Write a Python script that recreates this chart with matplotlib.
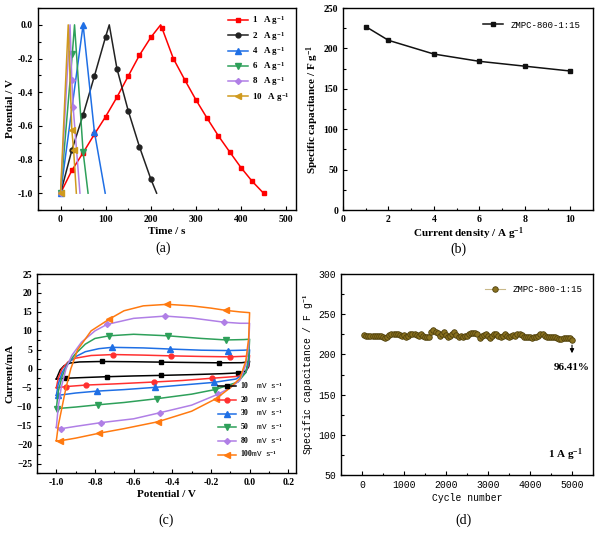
# Electrochemical performance of ZMPC-800-1:15 (GCD, rate, CV, cycling)

import matplotlib
matplotlib.use('Agg')
import matplotlib.pyplot as plt
from matplotlib.ticker import MultipleLocator

plt.rcParams['font.family'] = 'Liberation Serif'
plt.rcParams['font.weight'] = 'bold'
plt.rcParams['axes.labelweight'] = 'bold'
plt.rcParams['mathtext.fontset'] = 'custom'
plt.rcParams['mathtext.rm'] = 'Liberation Serif'
plt.rcParams['mathtext.bf'] = 'Liberation Serif:bold'
plt.rcParams['mathtext.it'] = 'Liberation Serif:italic'

# ---- (a) GCD curves ----
gcd_labels = ['1', '2', '4', '6', '8', '10']
t_1 = [0, 25, 50, 75, 100, 125, 150, 175, 200, 222, 225, 250, 275, 300, 325, 350, 375, 400, 425, 450]
v_1 = [-1.0, -0.865, -0.76, -0.65, -0.545, -0.43, -0.305, -0.18, -0.075, 0.0, -0.02, -0.2,
       -0.325, -0.445, -0.555, -0.66, -0.755, -0.848, -0.93, -1.0]
t_2 = [0, 25, 50, 75, 100, 108, 125, 150, 175, 200, 213]
v_2 = [-1.0, -0.745, -0.535, -0.305, -0.07, 0.0, -0.26, -0.51, -0.725, -0.915, -1.0]
t_4 = [0, 50, 75, 99]
v_4 = [-1.0, 0.0, -0.635, -1.0]
t_6 = [0, 26, 31, 50, 61]
v_6 = [-1.0, -0.175, 0.0, -0.755, -1.0]
t_8 = [0, 21, 25, 28, 43]
v_8 = [-1.0, 0.0, -0.33, -0.49, -1.0]
t_10 = [0, 17, 25, 29, 35]
v_10 = [-1.0, 0.0, -0.625, -0.745, -1.0]

# ---- (b) rate capability ----
current_density = [1, 2, 4, 6, 8, 10]
capacitance = [227, 210, 193, 184, 178, 172]

# ---- (c) CV curves (anodic then cathodic branch) ----
cv_labels = ['10', '20', '30', '50', '80', '100']
cv_x_10 = [-1.0, -0.99, -0.98, -0.96, -0.93, -0.88, -0.764, -0.6, -0.46, -0.3, -0.16, -0.04, -0.01, 0.0,
           -0.005, -0.02, -0.06, -0.14, -0.3, -0.46, -0.6, -0.74, -0.85, -0.95, -1.0]
cv_y_10 = [-2.7, -1.5, -0.3, 0.8, 1.5, 1.8, 1.92, 1.85, 1.75, 1.65, 1.57, 1.6, 1.8, 2.0,
           0.5, -0.6, -1.1, -1.3, -1.55, -1.75, -1.9, -2.1, -2.3, -2.5, -2.7]
cv_x_20 = [-1.0, -0.99, -0.97, -0.94, -0.9, -0.82, -0.705, -0.55, -0.405, -0.25, -0.104, -0.02, 0.0,
           -0.005, -0.02, -0.06, -0.194, -0.35, -0.497, -0.7, -0.847, -0.95, -1.0]
cv_y_20 = [-5.0, -2.5, 0.0, 1.8, 2.8, 3.5, 3.75, 3.6, 3.4, 3.25, 3.15, 3.3, 3.5,
           1.0, -1.0, -2.0, -2.5, -3.1, -3.5, -4.0, -4.3, -4.7, -5.0]
cv_x_30 = [-1.0, -0.99, -0.97, -0.94, -0.9, -0.85, -0.78, -0.712, -0.55, -0.41, -0.25, -0.113, -0.03, 0.0,
           -0.005, -0.02, -0.07, -0.186, -0.35, -0.488, -0.65, -0.79, -0.9, -0.99, -1.0]
cv_y_30 = [-7.0, -4.0, -1.0, 1.5, 3.2, 4.5, 5.3, 5.65, 5.5, 5.2, 4.9, 4.8, 4.9, 5.0,
           1.5, -1.0, -2.7, -3.6, -4.3, -4.9, -5.5, -5.9, -6.4, -7.0, -7.0]
cv_x_50 = [-1.0, -0.99, -0.97, -0.94, -0.9, -0.85, -0.8, -0.726, -0.6, -0.424, -0.25, -0.12, -0.03, 0.0,
           -0.005, -0.02, -0.06, -0.18, -0.3, -0.48, -0.65, -0.783, -0.9, -0.995, -1.0]
cv_y_50 = [-10.5, -6.0, -2.0, 1.5, 4.0, 6.5, 8.0, 8.7, 9.1, 8.7, 8.0, 7.6, 7.7, 7.8,
           3.0, -1.0, -3.5, -5.5, -6.7, -7.9, -8.9, -9.5, -10.1, -10.5, -10.5]
cv_x_80 = [-1.0, -0.99, -0.975, -0.95, -0.92, -0.87, -0.8, -0.738, -0.6, -0.436, -0.3, -0.135, -0.05, 0.0,
           -0.005, -0.02, -0.05, -0.1, -0.163, -0.3, -0.464, -0.6, -0.767, -0.9, -0.974, -1.0]
cv_y_80 = [-15.5, -10.0, -5.0, 0.0, 3.5, 7.0, 10.0, 11.7, 13.3, 13.9, 13.4, 12.3, 12.0, 12.0,
           6.0, 1.0, -3.0, -5.0, -6.7, -9.6, -11.6, -13.2, -14.2, -15.2, -15.8, -15.5]
cv_x_100 = [-1.0, -0.99, -0.97, -0.95, -0.925, -0.89, -0.82, -0.726, -0.65, -0.55, -0.425, -0.3, -0.2, -0.122,
            -0.05, 0.0, -0.005, -0.02, -0.05, -0.1, -0.174, -0.3, -0.476, -0.65, -0.778, -0.9, -0.979, -1.0]
cv_y_100 = [-19.0, -15.0, -10.0, -5.0, 0.0, 5.0, 10.0, 13.1, 15.3, 16.6, 17.0, 16.6, 16.0, 15.4,
            15.0, 14.8, 8.0, 2.0, -2.5, -5.0, -7.9, -11.2, -14.0, -15.8, -17.0, -18.3, -19.0, -19.0]

# ---- (d) cycling stability ----
cycles = list(range(50, 5001, 50))
cycle_cap = [224.5, 222.5, 223.5, 222.5, 222.5, 222.5, 222.5, 222.5, 222.5, 222.0,
             220.5, 222.0, 224.5, 225.0, 225.0, 225.0, 225.0, 224.5, 223.0, 224.0,
             222.0, 223.0, 225.0, 225.0, 225.0, 224.0, 222.5, 225.0, 223.0, 221.5,
             221.5, 221.5, 228.0, 230.5, 228.0, 226.0, 222.5, 225.0, 227.5, 224.0,
             222.0, 223.0, 225.0, 227.5, 224.0, 222.0, 223.0, 222.0, 222.5, 223.0,
             225.0, 227.0, 227.0, 227.0, 225.0, 221.0, 222.5, 224.0, 225.0, 223.0,
             221.0, 223.0, 225.0, 225.0, 223.0, 221.5, 223.0, 225.0, 223.0, 221.5,
             223.0, 224.0, 222.5, 225.0, 225.0, 224.0, 222.0, 221.5, 222.0, 222.0,
             221.0, 222.0, 222.0, 223.0, 225.0, 225.0, 223.0, 222.0, 222.0, 222.0,
             221.5, 221.5, 220.0, 219.0, 219.0, 220.0, 220.5, 221.0, 220.0, 218.5]

colors_a = ['#FF0000', '#222222', '#1F6FE5', '#2EA05A', '#B07FE6', '#D09A1E']
colors_c = ['#000000', '#FF3030', '#1F6FE5', '#2EA05A', '#B07FE6', '#FF7A10']
markers = ['s', 'o', '^', 'v', 'D', '<']
msizes = [3.5, 3.5, 4, 4, 3, 4]


def style_axes(ax, fs=7):
    ax.tick_params(which='both', direction='in', top=False, right=False, labelsize=fs, width=0.8)
    ax.tick_params(which='major', length=3)
    ax.tick_params(which='minor', length=1.8)
    for s in ax.spines.values():
        s.set_linewidth(1.0)


fig = plt.figure(figsize=(5.98, 5.33), dpi=100)
W, H = 598.0, 533.0


def rect(l, r, t, b):
    return [l / W, 1 - b / H, (r - l) / W, (b - t) / H]


# (a)
ax = fig.add_axes(rect(38, 296, 8, 210))
gcd_t = [t_1, t_2, t_4, t_6, t_8, t_10]
gcd_v = [v_1, v_2, v_4, v_6, v_8, v_10]
gcd_marks = [[i for i in range(len(t_1)) if i != 9], [0, 1, 2, 3, 4, 6, 7, 8, 9], [0, 1, 2], [0, 1, 3], [0, 2, 3], [0, 2, 3]]
for i in range(6):
    ax.plot(gcd_t[i], gcd_v[i], color=colors_a[i], lw=1.1, marker=markers[i], ms=msizes[i],
            markevery=gcd_marks[i], label=gcd_labels[i] + '   A g$^{\\mathbf{-1}}$')
ax.set_xlim(-50, 522)
ax.set_ylim(-1.1, 0.1)
ax.xaxis.set_major_locator(MultipleLocator(100))
ax.xaxis.set_minor_locator(MultipleLocator(50))
ax.yaxis.set_major_locator(MultipleLocator(0.2))
ax.yaxis.set_minor_locator(MultipleLocator(0.1))
ax.yaxis.set_major_formatter(matplotlib.ticker.FormatStrFormatter('%.1f'))
ax.set_xlabel('Time / s', fontsize=8, labelpad=2)
ax.set_ylabel('Potential / V', fontsize=8, labelpad=2)
style_axes(ax)
ax.legend(loc='upper right', frameon=False, fontsize=6.5, handlelength=2.2, labelspacing=0.25,
          borderaxespad=0.3, handletextpad=0.5)

# (b)
ax = fig.add_axes(rect(343, 593, 8, 210))
ax.plot(current_density, capacitance, color='#111111', lw=1.1, marker='s', ms=3.5, label='ZMPC-800-1:15')
ax.set_xlim(0, 11)
ax.set_ylim(0, 250)
ax.xaxis.set_major_locator(MultipleLocator(2))
ax.xaxis.set_minor_locator(MultipleLocator(1))
ax.yaxis.set_major_locator(MultipleLocator(50))
ax.yaxis.set_minor_locator(MultipleLocator(25))
ax.set_xlabel('Current density / A g$^{\\mathbf{-1}}$', fontsize=8, labelpad=1)
ax.set_ylabel('Specific capacitance / F g$^{\\mathbf{-1}}$', fontsize=8, labelpad=2)
style_axes(ax)
ax.legend(loc='upper right', frameon=False, prop={'family': 'Liberation Mono', 'weight': 'normal', 'size': 6.5},
          handlelength=2.2, borderaxespad=1.0)

# (c)
ax = fig.add_axes(rect(37, 296, 274, 473))
cv_x = [cv_x_10, cv_x_20, cv_x_30, cv_x_50, cv_x_80, cv_x_100]
cv_y = [cv_y_10, cv_y_20, cv_y_30, cv_y_50, cv_y_80, cv_y_100]
cv_marks = [[6, 8, 10, 16, 19, 21, 23], [6, 8, 10, 16, 18, 20, 21], [7, 9, 11, 17, 19, 21, 23],
            [7, 9, 11, 17, 19, 21, 23], [7, 9, 11, 18, 20, 22, 24], [7, 10, 13, 20, 22, 24, 26]]
for i in range(6):
    lab = '$\\mathbf{' + cv_labels[i] + '}$' + ('' if cv_labels[i] == '100' else '  ') + 'mV s$^{-1}$'
    ax.plot(cv_x[i], cv_y[i], color=colors_c[i], lw=1.1, marker=markers[i], ms=msizes[i],
            markevery=cv_marks[i], label=lab)
ax.set_xlim(-1.1, 0.24)
ax.set_ylim(-27.5, 25)
ax.xaxis.set_major_locator(MultipleLocator(0.2))
ax.xaxis.set_minor_locator(MultipleLocator(0.1))
ax.xaxis.set_major_formatter(matplotlib.ticker.FormatStrFormatter('%.1f'))
ax.yaxis.set_major_locator(MultipleLocator(5))
ax.yaxis.set_minor_locator(MultipleLocator(2.5))
ax.set_xlabel('Potential / V', fontsize=8, labelpad=2)
ax.set_ylabel('Current/mA', fontsize=8, labelpad=2)
style_axes(ax)
ax.legend(loc='lower right', frameon=False, prop={'family': 'Liberation Mono', 'weight': 'normal', 'size': 5.5},
          handlelength=2.3, labelspacing=0.35, borderaxespad=1.4, handletextpad=0.5)

# (d)
ax = fig.add_axes(rect(341, 593, 274, 475))
ax.plot(cycles, cycle_cap, color='#C9B98A', lw=0.8, marker='o', ms=4, mfc='#8A7220', mec='#4F400C',
        mew=0.6, label='ZMPC-800-1:15')
ax.set_xlim(-500, 5500)
ax.set_ylim(50, 300)
ax.xaxis.set_major_locator(MultipleLocator(1000))
ax.xaxis.set_minor_locator(MultipleLocator(500))
ax.yaxis.set_major_locator(MultipleLocator(50))
ax.yaxis.set_minor_locator(MultipleLocator(25))
mono = {'family': 'Liberation Mono', 'weight': 'normal'}
ax.set_xlabel('Cycle number', fontsize=7, labelpad=2, **mono)
ax.set_ylabel('Specific capacitance / F g$^{-1}$', fontsize=7, labelpad=2, **mono)
style_axes(ax)
for lbl in ax.get_xticklabels() + ax.get_yticklabels():
    lbl.set_family('Liberation Mono')
    lbl.set_weight('normal')
ax.annotate('', xy=(5000, 198), xytext=(5000, 215),
            arrowprops=dict(arrowstyle='-|>', color='black', lw=0.8, mutation_scale=6))
ax.text(5000, 184, '96.41%', ha='center', va='center', fontsize=8)
ax.text(5250, 75, '1 A g$^{\\mathbf{-1}}$', ha='right', va='center', fontsize=8)
ax.legend(loc='upper right', frameon=False, prop={'family': 'Liberation Mono', 'weight': 'normal', 'size': 6.5},
          handlelength=2.2, borderaxespad=0.8)

# panel letters
fig.text(163 / W, 1 - 248 / H, '(a)', ha='center', va='center', fontsize=10, weight='normal')
fig.text(458 / W, 1 - 249 / H, '(b)', ha='center', va='center', fontsize=10, weight='normal')
fig.text(166 / W, 1 - 520 / H, '(c)', ha='center', va='center', fontsize=10, weight='normal')
fig.text(463 / W, 1 - 520 / H, '(d)', ha='center', va='center', fontsize=10, weight='normal')

fig.savefig('out.png', dpi=100)
